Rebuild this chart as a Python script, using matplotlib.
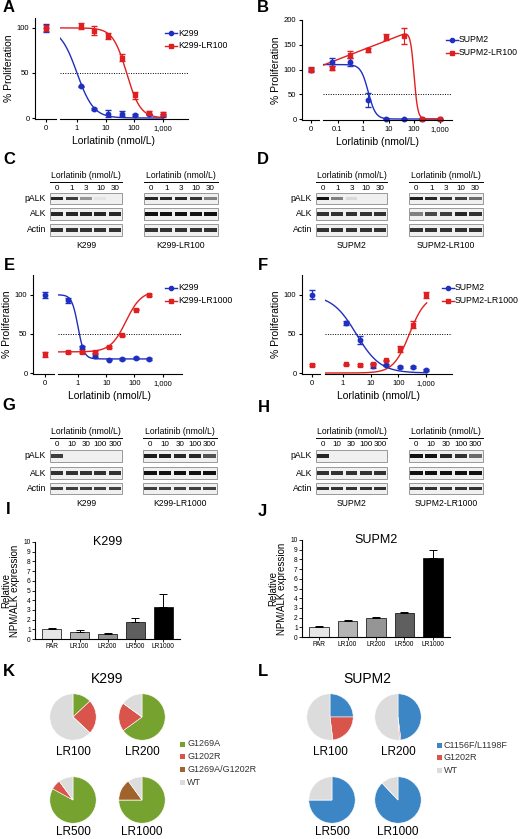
import numpy as np
import matplotlib
matplotlib.use("Agg")
import matplotlib.pyplot as plt
from matplotlib.patches import Rectangle
from matplotlib.lines import Line2D

W, H = 520, 839
fig = plt.figure(figsize=(W/100, H/100), dpi=100)
plt.rcParams['font.family'] = ['Liberation Sans', 'DejaVu Sans']

BLUE = '#1f2fbf'; RED = '#e02020'

# ---------------- data ----------------
A_doses = [1.37, 4.1, 12.3, 37, 111, 333, 1000]
A_k299 = [100, 35, 10, 5, 5, 3, 4, 3]
A_k299_err = [4, 1, 1, 4, 3, 1, 1, 1]
A_lr100 = [100, 102, 97, 91, 67, 25, 6, 4]
A_lr100_err = [3, 3, 5, 3, 4, 4, 2, 3]
A_fit_k299 = (100, 0, 1.0, 1.5)       # top, bottom, IC50, hill
A_fit_lr100 = (100, 0, 55, 1.8)

B_doses = [0.063, 0.3, 1.6, 8, 40, 200, 1000]
B_supm2 = [100, 116, 115, 38, 1, 0, 0, 0]
B_supm2_err = [3, 8, 8, 14, 1, 1, 1, 1]
B_lr100 = [100, 103, 130, 140, 165, 168, 1, 0]
B_lr100_err = [5, 4, 7, 4, 6, 16, 1, 1]
B_fit_supm2 = (110, 0, 1.6, 3.0)
B_fit_lr100 = (140, 20, 100, 6.0)     # base, slope/decade, IC50, hill

E_doses = [0.45, 1.37, 4.1, 12.3, 37, 111, 333]
E_k299 = [100, 93, 33, 22, 17, 18, 19, 18]
E_k299_err = [4, 3, 2, 2, 1, 1, 1, 1]
E_lr1000 = [24, 27, 27, 27, 33, 48, 81, 100]
E_lr1000_err = [3, 1, 1, 1, 1, 1, 1, 1]
E_fit_k299 = (100, 18, 1.0, 4.0)
E_fit_lr1000 = (27, 105, 50, 1.6)

F_doses = [1.3, 4.1, 12.3, 37, 111, 333, 1000]
F_supm2 = [100, 64, 42, 9, 10, 8, 8, 4]
F_supm2_err = [6, 2, 5, 2, 1, 1, 1, 1]
F_lr1000 = [10, 11, 10, 12, 16, 31, 62, 100]
F_lr1000_err = [1, 1, 1, 1, 1, 4, 4, 4]
F_fit_supm2 = (100, 0, 3.0, 1.0)
F_fit_lr1000 = (0, 100, 250, 1.5)

bar_cats = ['PAR', 'LR100', 'LR200', 'LR500', 'LR1000']
I_vals = [1.0, 0.75, 0.55, 1.75, 3.35]
I_err = [0.15, 0.15, 0.12, 0.4, 1.25]
J_vals = [1.0, 1.65, 1.95, 2.5, 8.1]
J_err = [0.1, 0.08, 0.15, 0.08, 0.9]
bar_colors = ['#e6e6e6', '#b4b4b4', '#959595', '#5f5f5f', '#000000']

K_labels = ['G1269A', 'G1202R', 'G1269A/G1202R', 'WT']
K_colors = ['#76a22f', '#d9544a', '#a0632c', '#dcdcdc']
K_pies = {'LR100': [0.13, 0.24, 0, 0.63], 'LR200': [0.65, 0.20, 0, 0.15],
          'LR500': [0.83, 0.07, 0, 0.10], 'LR1000': [0.75, 0, 0.15, 0.10]}
L_labels = ['C1156F/L1198F', 'G1202R', 'WT']
L_colors = ['#3d86c6', '#d9544a', '#dcdcdc']
L_pies = {'LR100': [0.25, 0.23, 0.52], 'LR200': [0.48, 0.01, 0.51],
          'LR500': [0.75, 0, 0.25], 'LR1000': [0.88, 0, 0.12]}

doses_C = ['0', '1', '3', '10', '30']
doses_G = ['0', '10', '30', '100', '300']
blot_rows = ['pALK', 'ALK', 'Actin']
blot_C = {'K299': [[.9, .8, .4, .05, 0], [.9]*5, [.85]*5],
          'K299-LR100': [[.9, .9, .9, .85, .5], [1]*5, [.85]*5]}
blot_D = {'SUPM2': [[1, .5, .1, 0, 0], [.85]*5, [.85]*5],
          'SUPM2-LR100': [[.95, .9, .85, .8, .6], [.5, .75, .8, .9, .85], [.85]*5]}
blot_G = {'K299': [[.8, 0, 0, 0, 0], [.85]*5, [.8]*5],
          'K299-LR1000': [[.95, .95, .9, .9, .7], [1]*5, [.8]*5]}
blot_H = {'SUPM2': [[.9, 0, 0, 0, 0], [.85]*5, [.85]*5],
          'SUPM2-LR1000': [[1, 1, .9, .85, .6], [1]*5, [.85]*5]}

# ---------------- helpers ----------------
def axpx(x0, y0, x1, y1):
    return fig.add_axes([x0/W, 1-y1/H, (x1-x0)/W, (y1-y0)/H])

def hill(x, top, bot, ic, h):
    return bot + (top-bot)/(1+(x/ic)**h)

TS = 5.5; LS = 7.5

def dose_panel(yspine, x0p, brk1, brk2, xend, p1, dec, py0, py100, ytop, ymax, yticks,
               doses, s1, e1, s2, e2, curves, names, legxy, xticks):
    unit = (py0 - py100)/100.0
    ylim = (-1.0/unit, (py0-ytop)/unit)
    axL = axpx(yspine, ytop, brk1, py0)
    axL.set_xlim(-(x0p-yspine), brk1-x0p)
    axR = axpx(brk2, ytop, xend, py0)
    axR.set_xscale('log')
    axR.set_xlim(10**((brk2-p1)/dec), 10**((xend-p1)/dec))
    for a in (axL, axR):
        a.set_ylim(*ylim)
        a.patch.set_alpha(0)
        for s in ('top', 'right'):
            a.spines[s].set_visible(False)
        a.tick_params(labelsize=TS, length=2.5, width=0.8, pad=1.5)
    axR.spines['left'].set_visible(False)
    axR.set_yticks([])
    axL.set_yticks(yticks); axL.set_yticklabels([str(t) for t in yticks])
    axL.set_xticks([0]); axL.set_xticklabels(['0'])
    axR.set_xticks(xticks); axR.set_xticklabels([f'{t:,}' if t >= 1 else str(t) for t in xticks])
    axR.minorticks_off()
    axR.axhline(50, color='k', ls=(0, (1, 1.5)), lw=0.7)
    axL.set_ylabel('% Proliferation', fontsize=LS, labelpad=2)
    xs = np.logspace(np.log10(axR.get_xlim()[0]), np.log10(doses[-1]*1.05), 300)
    for (vals, err, col, mk, cf, nm) in ((s1, e1, BLUE, 'o', curves[0], names[0]),
                                         (s2, e2, RED, 's', curves[1], names[1])):
        axL.errorbar([0], vals[:1], yerr=err[:1], fmt=mk, color=col, ms=3.2, capsize=2,
                     elinewidth=0.8, clip_on=False)
        axR.errorbar(doses, vals[1:], yerr=err[1:], fmt=mk, color=col, ms=3.2, capsize=2,
                     elinewidth=0.8, clip_on=False)
        axR.plot(xs, cf(xs), color=col, lw=1)
    lx, ly = legxy
    for i, (col, mk, nm) in enumerate(((BLUE, 'o', names[0]), (RED, 's', names[1]))):
        yy = ly + i*12.5
        fig.add_artist(Line2D([lx/W, (lx+12)/W], [1-yy/H]*2, color=col, lw=1))
        fig.add_artist(Line2D([(lx+6)/W], [1-yy/H], color=col, marker=mk, ms=3))
        fig.text((lx+13)/W, 1-yy/H, nm, fontsize=6.3, va='center')
    fig.text(((brk2+xend)/2 - 10)/W, 1-(py0+22)/H, 'Lorlatinib (nmol/L)', fontsize=LS, ha='center', va='center')
    return axL, axR

# A
dose_panel(35, 46, 56, 60, 188, 77, 28.5, 119, 28, 18, 110, [0, 50, 100],
           A_doses, A_k299, A_k299_err, A_lr100, A_lr100_err,
           (lambda x: hill(x, *A_fit_k299), lambda x: hill(x, *A_fit_lr100)),
           ('K299', 'K299-LR100'), (165, 33), [1, 10, 100, 1000])
# B
def b_red(x):
    base, sl, ic, h = B_fit_lr100
    return (base + sl*np.log10(x))/(1+(x/ic)**h)
dose_panel(302, 311, 319, 323, 452, 363, 25.5, 120, 70, 20, 200, [0, 50, 100, 150, 200],
           B_doses, B_supm2, B_supm2_err, B_lr100, B_lr100_err,
           (lambda x: hill(x, *B_fit_supm2), b_red),
           ('SUPM2', 'SUPM2-LR100'), (446, 40), [0.1, 1, 10, 100, 1000])
# E
dose_panel(33, 45, 54, 58, 182, 78, 28.2, 374, 295, 275, 125, [0, 50, 100],
           E_doses, E_k299, E_k299_err, E_lr1000, E_lr1000_err,
           (lambda x: hill(x, *E_fit_k299), lambda x: hill(x, *E_fit_lr1000)),
           ('K299', 'K299-LR1000'), (165, 288), [1, 10, 100, 1000])
# F
dose_panel(302, 312, 320, 325, 452, 343, 27.7, 374, 295, 275, 125, [0, 50, 100],
           F_doses, F_supm2, F_supm2_err, F_lr1000, F_lr1000_err,
           (lambda x: hill(x, *F_fit_supm2), lambda x: hill(x, *F_fit_lr1000)),
           ('SUPM2', 'SUPM2-LR1000'), (442, 288), [1, 10, 100, 1000])

# ---------------- overlay for blots and letters ----------------
ov = fig.add_axes([0, 0, 1, 1]); ov.set_xlim(0, W); ov.set_ylim(H, 0); ov.axis('off')

def blot(x0, x1, ytop_header, rows, doses, data_name, intens, label_rows):
    nl = len(doses); lw_ = (x1-x0)/nl
    ov.text((x0+x1)/2, ytop_header, 'Lorlatinib (nmol/L)', fontsize=6.2, ha='center', va='center')
    ov.plot([x0, x1], [ytop_header+6]*2, color='k', lw=0.7)
    for i, d in enumerate(doses):
        ov.text(x0+(i+0.5)*lw_, ytop_header+12, d, fontsize=5.8, ha='center', va='center')
    for r, (ya, yb) in enumerate(rows):
        ov.add_patch(Rectangle((x0, ya), x1-x0, yb-ya, fc='#f0f0f0', ec='#8a8a8a', lw=0.6))
        for i, v in enumerate(intens[r]):
            if v > 0:
                ov.add_patch(Rectangle((x0+i*lw_+lw_*0.08, (ya+yb)/2-(yb-ya)*0.18), lw_*0.84,
                                       (yb-ya)*0.36, fc='#111111', alpha=v, lw=0))
        if label_rows:
            ov.text(x0-4, (ya+yb)/2, blot_rows[r], fontsize=6.2, ha='right', va='center')
    ov.text((x0+x1)/2, rows[-1][1]+10, data_name, fontsize=6.2, ha='center', va='center')

rowsC = [(193, 204), (208, 220), (224, 236)]
for (x0, x1), (nm, it), lab in zip([(50, 122), (144, 218)], blot_C.items(), [True, False]):
    blot(x0, x1, 176, rowsC, doses_C, nm, it, lab)
for (x0, x1), (nm, it), lab in zip([(316, 387), (409, 483)], blot_D.items(), [True, False]):
    blot(x0, x1, 176, rowsC, doses_C, nm, it, lab)
rowsG = [(450, 462), (467, 479), (483, 494)]
for (x0, x1), (nm, it), lab in zip([(50, 122), (143, 217)], blot_G.items(), [True, False]):
    blot(x0, x1, 432, rowsG, doses_G, nm, it, lab)
for (x0, x1), (nm, it), lab in zip([(316, 387), (409, 483)], blot_H.items(), [True, False]):
    blot(x0, x1, 432, rowsG, doses_G, nm, it, lab)

for t, x, y in [('A', 9, 7), ('B', 263, 7), ('C', 9, 160), ('D', 263, 160), ('E', 9, 266),
                ('F', 263, 266), ('G', 9, 405), ('H', 264, 407), ('I', 8, 509), ('J', 262, 511),
                ('K', 9, 671), ('L', 263, 671)]:
    ov.text(x, y, t, fontsize=12, fontweight='bold', ha='center', va='center')

# ---------------- bars ----------------
def bar_panel(x0, x1, y0, y1, vals, err, title):
    ax = axpx(x0, y0, x1, y1)
    xs = np.arange(len(bar_cats))
    ax.bar(xs, vals, width=0.68, color=bar_colors, edgecolor='k', lw=0.5,
           yerr=[np.zeros(len(err)), err], error_kw=dict(lw=0.7, capsize=3, capthick=0.7))
    ax.set_xlim(-0.6, 4.6); ax.set_ylim(0, 10)
    ax.set_yticks(range(11)); ax.set_xticks(xs); ax.set_xticklabels(bar_cats)
    ax.tick_params(labelsize=4.8, length=2, width=0.6, pad=1)
    for s in ('top', 'right'):
        ax.spines[s].set_visible(False)
    ax.set_ylabel('Relative\nNPM/ALK expression', fontsize=7, labelpad=2.5, linespacing=0.9)
    ax.patch.set_alpha(0)
    ov.text((x0+x1)/2, y0, title, fontsize=9, ha='center', va='center')

bar_panel(35, 180, 542, 639, I_vals, I_err, 'K299')
bar_panel(302, 450, 540, 637, J_vals, J_err, 'SUPM2')

# ---------------- pies ----------------
def pie_at(cx, cy, r, fr, cols, name, ly):
    ax = axpx(cx-r, cy-r, cx+r, cy+r)
    ax.pie(fr, colors=cols, startangle=90, counterclock=False,
           wedgeprops=dict(lw=0.4, edgecolor='white'))
    ax.set_aspect('equal')
    ov.text(cx, ly, name, fontsize=8.5, ha='center', va='center')

pos_top = [(73, 717), (142, 717)]; pos_bot = [(73, 800), (142, 800)]
ov.text(107, 679, 'K299', fontsize=10, ha='center', va='center')
for (nm, fr), (cx, cy), ly in zip(K_pies.items(), pos_top + pos_bot, [752, 752, 832, 832]):
    pie_at(cx, cy, 29, fr, K_colors, nm, ly)
ov.text(367, 679, 'SUPM2', fontsize=10, ha='center', va='center')
for (nm, fr), (cx, cy), ly in zip(L_pies.items(), [(330, 717), (398, 717), (332, 800), (398, 800)],
                                  [752, 752, 832, 832]):
    pie_at(cx, cy, 29, fr, L_colors, nm, ly)

for i, (lab, col) in enumerate(zip(K_labels, K_colors)):
    yy = 744 + i*12.7
    ov.add_patch(Rectangle((180, yy-2.5), 5, 5, fc=col, lw=0))
    ov.text(187, yy, lab, fontsize=6.5, va='center', color='#333333')
for i, (lab, col) in enumerate(zip(L_labels, L_colors)):
    yy = 745 + i*12.7
    ov.add_patch(Rectangle((437, yy-2.5), 5, 5, fc=col, lw=0))
    ov.text(444, yy, lab, fontsize=6.5, va='center', color='#333333')

fig.savefig('out.png', dpi=100)
